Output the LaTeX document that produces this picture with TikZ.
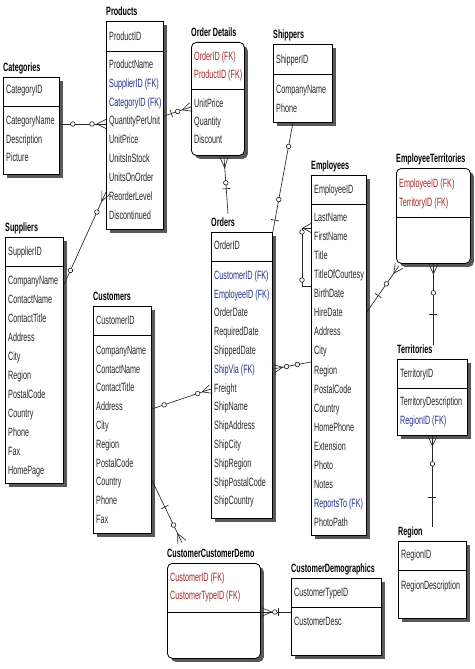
\documentclass[tikz,border=0pt]{standalone}
\usepackage{fontspec}
\newfontfamily\erfont{Liberation Sans}[FakeStretch=0.6]
\usepackage{xcolor}
\usepackage{tikz}
\usetikzlibrary{shadows,decorations.markings,calc}
\definecolor{fkred}{HTML}{A02828}
\definecolor{fkblue}{HTML}{23308A}
\newcommand\fkr[1]{\textcolor{fkred}{#1}}
\newcommand\fkb[1]{\textcolor{fkblue}{#1}}
\tikzset{
  tbl/.style={draw=black, line width=0.8pt, fill=white, anchor=north west, inner sep=0pt,
              drop shadow={shadow xshift=3.5pt, shadow yshift=-3.5pt, opacity=1, fill=black!65}},
  rtbl/.style={tbl, rounded corners=5pt},
  ttl/.style={anchor=west, inner sep=0pt, text height=8.5pt, text depth=2pt,
              font=\erfont\bfseries\fontsize{12pt}{14pt}\selectfont},
  fld/.style={anchor=west, inner sep=0pt, text height=8.5pt, text depth=2pt, text=black!85,
              font=\erfont\fontsize{12pt}{14pt}\selectfont},
  sepl/.style={line width=0.8pt},
  rel/.style={draw=black!85, line width=0.65pt},
  opt at/.style={postaction={decorate, decoration={markings,
      mark=at position #1 with {\draw[rel, fill=white] (0,0) circle (2.3pt);}}}},
  one at/.style={postaction={decorate, decoration={markings,
      mark=at position #1 with {\draw[rel] (0pt,-4pt) -- (0pt,4pt);}}}},
  crow end/.style={postaction={decorate, decoration={markings,
      mark=at position 0.999 with {\draw[rel] (0pt,-4.5pt) -- (-#1,0pt) -- (0pt,4.5pt);}}}},
  crow start/.style={postaction={decorate, decoration={markings,
      mark=at position 0.001 with {\draw[rel] (0pt,-4.5pt) -- (#1,0pt) -- (0pt,4.5pt);}}}},
}

\begin{document}
\begin{tikzpicture}[x=1pt,y=-1pt]
  \useasboundingbox (0,0) rectangle (474,669);

  % Categories
  \node[tbl, minimum width=56pt, minimum height=97pt] (cat) at (3,77) {};
  \node[ttl] (catT) at (3,68) {Categories};
  \node[fld] (cat-k1) at (6,90) {CategoryID};
  \draw[sepl] (cat.west |- 0,106) -- (cat.east |- 0,106);
  \foreach \f [count=\i] in {CategoryName,Description,Picture}
    \node[fld] (cat-a\i) at (6,{121+18.8*(\i-1)}) {\f};

  % Products
  \node[tbl, minimum width=57pt, minimum height=208pt] (prod) at (106,21) {};
  \node[ttl] (prodT) at (106,12) {Products};
  \node[fld] (prod-k1) at (109,37) {ProductID};
  \draw[sepl] (prod.west |- 0,51) -- (prod.east |- 0,51);
  \foreach \f [count=\i] in {ProductName,\fkb{SupplierID (FK)},\fkb{CategoryID (FK)},QuantityPerUnit,
      UnitPrice,UnitsInStock,UnitsOnOrder,ReorderLevel,Discontinued}
    \node[fld] (prod-a\i) at (109,{65+18.9*(\i-1)}) {\f};

  % Order Details
  \node[rtbl, minimum width=53pt, minimum height=113pt] (od) at (191,42) {};
  \node[ttl] (odT) at (191,33) {Order Details};
  \foreach \f [count=\i] in {\fkr{OrderID (FK)},\fkr{ProductID (FK)}}
    \node[fld] (od-k\i) at (194,{57+18*(\i-1)}) {\f};
  \draw[sepl] (od.west |- 0,89) -- (od.east |- 0,89);
  \foreach \f [count=\i] in {UnitPrice,Quantity,Discount}
    \node[fld] (od-a\i) at (194,{104+18*(\i-1)}) {\f};

  % Shippers
  \node[tbl, minimum width=59pt, minimum height=78pt] (shp) at (273,44) {};
  \node[ttl] (shpT) at (273,35) {Shippers};
  \node[fld] (shp-k1) at (276,60) {ShipperID};
  \draw[sepl] (shp.west |- 0,74) -- (shp.east |- 0,74);
  \foreach \f [count=\i] in {CompanyName,Phone}
    \node[fld] (shp-a\i) at (276,{90+19*(\i-1)}) {\f};

  % Employees
  \node[tbl, minimum width=55pt, minimum height=360pt] (emp) at (311,175) {};
  \node[ttl] (empT) at (311,166) {Employees};
  \node[fld] (emp-k1) at (314,190) {EmployeeID};
  \draw[sepl] (emp.west |- 0,204) -- (emp.east |- 0,204);
  \foreach \f [count=\i] in {LastName,FirstName,Title,TitleOfCourtesy,BirthDate,HireDate,Address,
      City,Region,PostalCode,Country,HomePhone,Extension,Photo,Notes,\fkb{ReportsTo (FK)},PhotoPath}
    \node[fld] (emp-a\i) at (314,{218+19.1*(\i-1)}) {\f};

  % EmployeeTerritories
  \node[rtbl, minimum width=74pt, minimum height=95pt] (et) at (396,168) {};
  \node[ttl] (etT) at (396,159) {EmployeeTerritories};
  \foreach \f [count=\i] in {\fkr{EmployeeID (FK)},\fkr{TerritoryID (FK)}}
    \node[fld] (et-k\i) at (399,{184+19*(\i-1)}) {\f};
  \draw[sepl] (et.west |- 0,217) -- (et.east |- 0,217);

  % Territories
  \node[tbl, minimum width=70pt, minimum height=76pt] (ter) at (397,359) {};
  \node[ttl] (terT) at (397,350) {Territories};
  \node[fld] (ter-k1) at (400,374) {TerritoryID};
  \draw[sepl] (ter.west |- 0,388) -- (ter.east |- 0,388);
  \foreach \f [count=\i] in {TerritoryDescription,\fkb{RegionID (FK)}}
    \node[fld] (ter-a\i) at (400,{402+19*(\i-1)}) {\f};

  % Region
  \node[tbl, minimum width=68pt, minimum height=77pt] (reg) at (398,541) {};
  \node[ttl] (regT) at (398,532) {Region};
  \node[fld] (reg-k1) at (401,555) {RegionID};
  \draw[sepl] (reg.west |- 0,570) -- (reg.east |- 0,570);
  \node[fld] (reg-a1) at (401,586) {RegionDescription};

  % Suppliers
  \node[tbl, minimum width=58pt, minimum height=246pt] (sup) at (5,237) {};
  \node[ttl] (supT) at (5,228) {Suppliers};
  \node[fld] (sup-k1) at (8,252) {SupplierID};
  \draw[sepl] (sup.west |- 0,266) -- (sup.east |- 0,266);
  \foreach \f [count=\i] in {CompanyName,ContactName,ContactTitle,Address,City,Region,
      PostalCode,Country,Phone,Fax,HomePage}
    \node[fld] (sup-a\i) at (8,{281+19*(\i-1)}) {\f};

  % Customers
  \node[tbl, minimum width=58pt, minimum height=227pt] (cus) at (93,306) {};
  \node[ttl] (cusT) at (93,297) {Customers};
  \node[fld] (cus-k1) at (96,321) {CustomerID};
  \draw[sepl] (cus.west |- 0,335) -- (cus.east |- 0,335);
  \foreach \f [count=\i] in {CompanyName,ContactName,ContactTitle,Address,City,Region,
      PostalCode,Country,Phone,Fax}
    \node[fld] (cus-a\i) at (96,{351+18.8*(\i-1)}) {\f};

  % Orders
  \node[tbl, minimum width=61pt, minimum height=286pt] (ord) at (211,232) {};
  \node[ttl] (ordT) at (211,223) {Orders};
  \node[fld] (ord-k1) at (214,246) {OrderID};
  \draw[sepl] (ord.west |- 0,261) -- (ord.east |- 0,261);
  \foreach \f [count=\i] in {\fkb{CustomerID (FK)},\fkb{EmployeeID (FK)},OrderDate,RequiredDate,
      ShippedDate,\fkb{ShipVia (FK)},Freight,ShipName,ShipAddress,ShipCity,ShipRegion,
      ShipPostalCode,ShipCountry}
    \node[fld] (ord-a\i) at (214,{276+18.8*(\i-1)}) {\f};

  % CustomerCustomerDemo
  \node[rtbl, minimum width=93pt, minimum height=95pt] (ccd) at (167,563) {};
  \node[ttl] (ccdT) at (167,554) {CustomerCustomerDemo};
  \foreach \f [count=\i] in {\fkr{CustomerID (FK)},\fkr{CustomerTypeID (FK)}}
    \node[fld] (ccd-k\i) at (170,{578+18*(\i-1)}) {\f};
  \draw[sepl] (ccd.west |- 0,612) -- (ccd.east |- 0,612);

  % CustomerDemographics
  \node[tbl, minimum width=90pt, minimum height=77pt] (cd) at (291,578) {};
  \node[ttl] (cdT) at (291,569) {CustomerDemographics};
  \node[fld] (cd-k1) at (294,593) {CustomerTypeID};
  \draw[sepl] (cd.west |- 0,607) -- (cd.east |- 0,607);
  \node[fld] (cd-a1) at (294,622) {CustomerDesc};

  % relationships
  \draw[rel, opt at=13pt, opt at=-14pt, crow end=9pt] (cat.east |- 0,124) -- (prod.west |- 0,124);
  \draw[rel, one at=8pt, opt at=-14pt, crow end=9pt] (prod.east |- 0,116) -- (od.west |- 0,107);
  \draw[rel, opt at=16pt, opt at=-22pt, crow end=10pt] (sup.east |- 0,285) -- (prod.west |- 0,192);
  \draw[rel, crow start=12pt, opt at=27pt, one at=33pt] ([xshift=6pt]od.south) -- ([xshift=5pt,yshift=4pt]ordT.north);
  \draw[rel, opt at=24pt, opt at=-33pt, one at=-12pt] ([xshift=-10pt]shp.south) -- (ord.north east);
  \draw[rel, opt at=13pt, opt at=-14pt, crow end=9pt] (cus.east |- 0,409) -- (ord.west |- 0,389);
  \draw[rel, crow start=10pt, opt at=14pt, opt at=25pt] (ord.east |- 0,369) -- (emp.west |- 0,362);
  % ReportsTo
  \draw[rel, crow start=8pt, opt at=13pt, opt at=-15pt] (emp.west |- 0,228) -- ++(-9,0) -- ++(0,58) -- (emp.west |- 0,286);
  \draw[rel, one at=20pt, opt at=-22pt, crow end=9pt] (emp.east |- 0,312) -- ([xshift=3pt,yshift=-2pt]et.south west);
  \draw[rel, crow start=10pt, opt at=29pt, one at=51pt] (et.south) -- (et.south |- terT.north);
  \draw[rel, crow start=10pt, opt at=28pt, one at=62pt] (ter.south) -- (ter.south |- regT.north);
  \draw[rel, one at=30pt, opt at=50pt, crow end=10pt] (cus.east |- 0,480) -- ([xshift=15pt,yshift=6pt]ccdT.north west);
  \draw[rel, crow start=11pt, opt at=14pt, one at=18pt] (ccd.east |- 0,612) -- (cd.west |- 0,612);
\end{tikzpicture}
\end{document}
